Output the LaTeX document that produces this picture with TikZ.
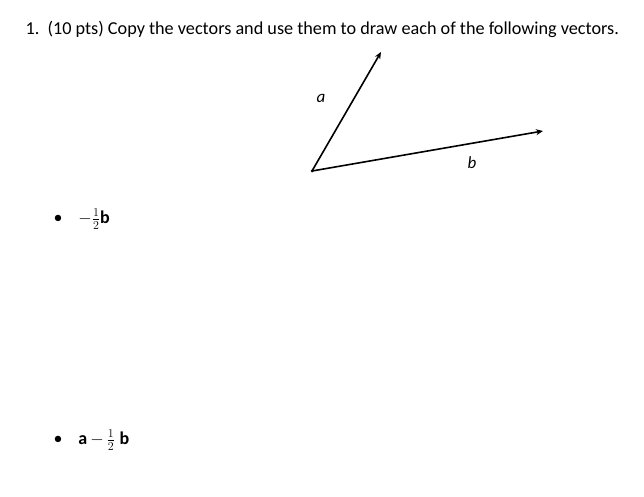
\documentclass[tikz,border=0pt]{standalone}
\usepackage{fontspec}
\setmainfont{Carlito}
\usetikzlibrary{arrows.meta}

\begin{document}
\begin{tikzpicture}[x=1pt,y=-1pt,
    vec/.style={line width=1.6pt,-{Stealth[length=7pt,width=6pt]}},
    vlabel/.style={font=\fontsize{17}{20}\selectfont\itshape},
    item/.style={anchor=west,font=\fontsize{18}{20}\selectfont}]
          \useasboundingbox (0,0) rectangle (644,497);

          \node[anchor=west,font=\fontsize{18.2}{21}\selectfont] (title) at (22,29)
          {1.\ \ (10 pts) Copy the vectors and use them to draw each of the following vectors.};

          \coordinate (O) at (312,171);
          \coordinate (A) at (381,52);
          \coordinate (B) at (543,131);
          \fill (O) circle (1.5pt);
          \draw[vec] (O) -- (A);
          \draw[vec] (O) -- (B);
          \node[vlabel] (la) at (321,98) {a};
          \node[vlabel] (lb) at (472,163) {b};

          \node[item] (neg) at (50,219)
          {\textbullet\hspace{16pt}$-\frac{1}{2}\mathbf{b}$};

          \node[item] (diff) at (50,440)
          {\textbullet\hspace{16pt}$\mathbf{a}\,{-}\,\frac{1}{2}\;\mathbf{b}$};
\end{tikzpicture}
\end{document}
